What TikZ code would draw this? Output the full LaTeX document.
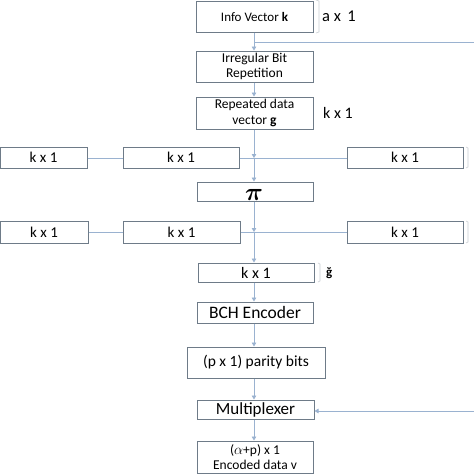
\documentclass[tikz,border=0pt]{standalone}
\usepackage{amsmath,amssymb,bm}
\usepackage{fontspec}
\setmainfont{Carlito}
\usetikzlibrary{arrows.meta}
\definecolor{boxline}{HTML}{6E7B88}
\definecolor{arrline}{HTML}{9AB2D0}
\definecolor{brk}{HTML}{C8CDD2}
\tikzset{
  blk/.style={draw=boxline, line width=1pt, fill=white, inner sep=0pt, align=center, text=black},
  conn/.style={draw=arrline, line width=0.8pt},
  arr/.style={conn, -{Triangle[width=4.5pt,length=4pt]}},
  brace/.style={draw=brk, line width=0.6pt},
}
\begin{document}
\begin{tikzpicture}[x=1pt,y=-1pt]
\useasboundingbox[fill=white] (0,0) rectangle (474,474);
% main column
\node[blk, minimum width=117pt, minimum height=31pt, font=\fontsize{13}{14}\selectfont] (info) at (254.5,16.5) {Info Vector \textbf{k}};
\node[blk, minimum width=117pt, minimum height=31pt, font=\fontsize{13.5}{15.5}\selectfont] (irr) at (254.5,66.5) {Irregular Bit\\Repetition};
\node[blk, minimum width=117pt, minimum height=32pt, font=\fontsize{13.5}{15.5}\selectfont] (rep) at (254.5,113) {Repeated data\\vector \textbf{g}};
% row 1
\node[blk, minimum width=87pt, minimum height=21pt, font=\fontsize{15}{16}\selectfont] (r1l) at (43.5,157.5) {k x 1};
\node[blk, minimum width=116pt, minimum height=21pt, font=\fontsize{15}{16}\selectfont] (r1m) at (181,157.5) {k x 1};
\node[blk, minimum width=116pt, minimum height=21pt, font=\fontsize{15}{16}\selectfont] (r1r) at (405,157.5) {k x 1};
% pi
\node[blk, minimum width=116pt, minimum height=19pt] (pi) at (255,191.5) {};
\node[inner sep=0pt, font=\fontsize{26}{26}\selectfont] (pit) at (254,195) {$\bm{\pi}$};
% row 2
\node[blk, minimum width=88pt, minimum height=22pt, font=\fontsize{15}{16}\selectfont] (r2l) at (44,232) {k x 1};
\node[blk, minimum width=117pt, minimum height=22pt, font=\fontsize{15}{16}\selectfont] (r2m) at (181.5,232) {k x 1};
\node[blk, minimum width=116pt, minimum height=22pt, font=\fontsize{15}{16}\selectfont] (r2r) at (405,232) {k x 1};
% lower column
\node[blk, minimum width=116pt, minimum height=19pt, font=\fontsize{16}{17}\selectfont] (kg) at (256,272.5) {k x 1};
\node[blk, minimum width=116pt, minimum height=21pt, font=\fontsize{17.5}{18}\selectfont] (bch) at (255,312.5) {BCH Encoder};
\node[blk, minimum width=138pt, minimum height=31pt, font=\fontsize{15.5}{17}\selectfont] (par) at (256,362.5) {(p x 1) parity bits};
\node[blk, minimum width=117pt, minimum height=19pt, font=\fontsize{17}{18}\selectfont] (mux) at (255.5,409.5) {Multiplexer};
\node[blk, minimum width=116pt, minimum height=32pt, font=\fontsize{13.5}{15.5}\selectfont] (enc) at (255,457) {($\alpha$+p) x 1\\Encoded data v};
% side labels
\node[anchor=west, inner sep=0pt, font=\fontsize{16.5}{18}\selectfont] (ax) at (322,16) {a x\, 1};
\node[anchor=west, inner sep=0pt, font=\fontsize{16}{17}\selectfont] (kx) at (323,113) {k x 1};
\node[anchor=west, inner sep=0pt, font=\fontsize{13}{15}\selectfont] (gt) at (326,273) {\textbf{ğ}};
% brackets
\draw[brace] (316,0) -- (319,1) -- (319,32) -- (316,33);
\draw[brace] (466,147) -- (468,148) -- (468,167) -- (466,168);
\draw[brace] (466,221) -- (468,222) -- (468,242) -- (466,243);
\draw[brace] (318,263) -- (320,264) -- (320,281) -- (318,282);
% coordinates
\coordinate (j0) at (254,42);
\coordinate (e0) at (474,42);
\coordinate (j1) at (254,158);
\coordinate (j2) at (254,232);
\coordinate (e1) at (474,411);
\coordinate (mr) at (mux.east |- e1);
% connectors
\draw[arr] (info.south -| j0) -- (irr.north -| j0);
\draw[conn] (j0) -- (e0);
\draw[arr] (irr.south -| j0) -- (rep.north -| j0);
\draw[arr] (rep.south -| j0) -- (j1);
\draw[conn] (r1l.east |- j1) -- (r1m.west |- j1);
\draw[conn] (r1m.east |- j1) -- (r1r.west |- j1);
\draw[arr] (j1) -- (pi.north -| j1);
\draw[arr] (pi.south -| j2) -- (j2);
\draw[conn] (r2l.east |- j2) -- (r2m.west |- j2);
\draw[conn] (r2m.east |- j2) -- (r2r.west |- j2);
\draw[arr] (j2) -- (kg.north -| j2);
\draw[arr] (kg.south -| j2) -- (bch.north -| j2);
\draw[arr] (bch.south -| j2) -- (par.north -| j2);
\draw[arr] (par.south -| j2) -- (mux.north -| j2);
\draw[arr] (mux.south -| j2) -- (enc.north -| j2);
\draw[arr] (e1) -- (mr);
\end{tikzpicture}
\end{document}
